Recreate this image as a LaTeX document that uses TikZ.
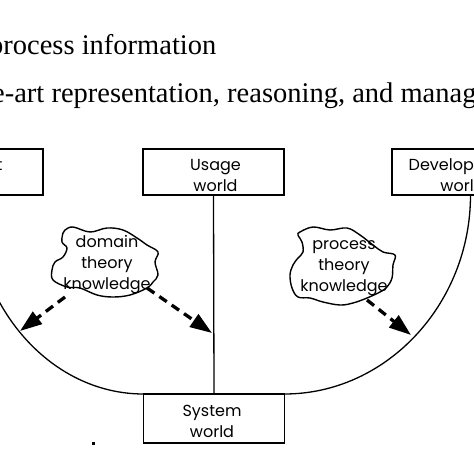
\documentclass[tikz,border=0pt]{standalone}
\usepackage{fontspec}
\setmainfont{Liberation Serif}
\newfontfamily\gfont{Poppins}
\usetikzlibrary{arrows.meta,calc}
\tikzset{
  world/.style={draw, line width=1.5pt, minimum width=141pt, inner sep=0pt, outer sep=0pt},
  wlabel/.style={align=center, inner sep=0pt, font=\gfont\fontsize{16}{21}\selectfont},
  cloudline/.style={line width=1.4pt, line join=round},
  cloudtext/.style={align=center, inner sep=0pt, font=\gfont\fontsize{16}{21}\selectfont},
  curveline/.style={line width=1.3pt},
  dasharrow/.style={line width=3.3pt, dash pattern=on 9pt off 6pt,
    -{Triangle[length=22pt,width=15pt]}},
  titletext/.style={inner sep=0pt, anchor=base west, font=\fontsize{28.5}{32}\selectfont}
}
\begin{document}
\begin{tikzpicture}[x=1pt,y=-1pt]
\useasboundingbox (0,0) rectangle (474,474);
\clip (0,0) rectangle (474,474);
\fill[white] (0,0) rectangle (474,474);

\node[titletext] (t1) at (-11,54) {process information};
\node[titletext] (t2) at (-8,102) {e-art representation, reasoning, and management};

\node[world, minimum height=46pt] (subj) at (-27.5,172) {};
\node[world, minimum height=46pt] (usage) at (213.5,172) {};
\node[world, minimum height=46pt] (dev) at (462.5,172) {};
\node[world, minimum height=49pt] (sys) at (214,418.5) {};
\node[wlabel] (subjl) at ($(subj.center)+(0,3)$) {Subject\\world};
\node[wlabel] (usagel) at ($(usage.center)+(2,3)$) {Usage\\world};
\node[wlabel] (devl) at ($(dev.center)+(0,3)$) {Development\\world};
\node[wlabel] (sysl) at ($(sys.center)+(-2,3)$) {System\\world};

\draw[curveline] (subj.south) .. controls +(0,110) and +(-94,0) .. (sys.north west);
\draw[curveline] (sys.north east) .. controls +(102,0) and +(0,109) .. ($(dev.south)+(8,0)$);
\draw[line width=1.3pt] (usage.south) -- (sys.north);

% domain cloud
\draw[cloudline] plot[smooth cycle, tension=0.6] coordinates {
 (65,230) (73,227) (90,232) (107,228) (123,230) (137,238) (147,245) (158,252)
 (155,262) (158,275) (153,282) (147,288) (130,295) (113,297) (97,295) (80,288)
 (67,287) (53,280) (52,270) (55,262) (63,257) (67,248) (62,242) (63,233)};
\node[cloudtext] (dk) at (107,265) {domain\\theory\\knowledge};

% process cloud
\draw[cloudline] plot[smooth cycle, tension=0.6] coordinates {
 (300,232) (313,227) (330,230) (347,228) (360,235) (373,245) (383,252) (395,255)
 (393,265) (392,278) (387,287) (380,292) (367,298) (353,303) (340,305) (323,302)
 (310,298) (298,297) (292,288) (290,275) (293,265) (298,258) (303,252) (302,242)
 (298,235)};
\node[cloudtext] (pk) at (344,268) {process\\theory\\knowledge};

\coordinate (sA) at (65,297);
\coordinate (tipA) at (20,331);
\coordinate (sB) at (147,288);
\coordinate (tipB) at (212,333);
\coordinate (sC) at (367,300);
\coordinate (tipC) at (411,335);
\draw[dasharrow] (sA) -- (tipA);
\draw[dasharrow] (sB) -- (tipB);
\draw[dasharrow] (sC) -- (tipC);

\fill (92,442) rectangle (95,444.5);
\end{tikzpicture}
\end{document}
